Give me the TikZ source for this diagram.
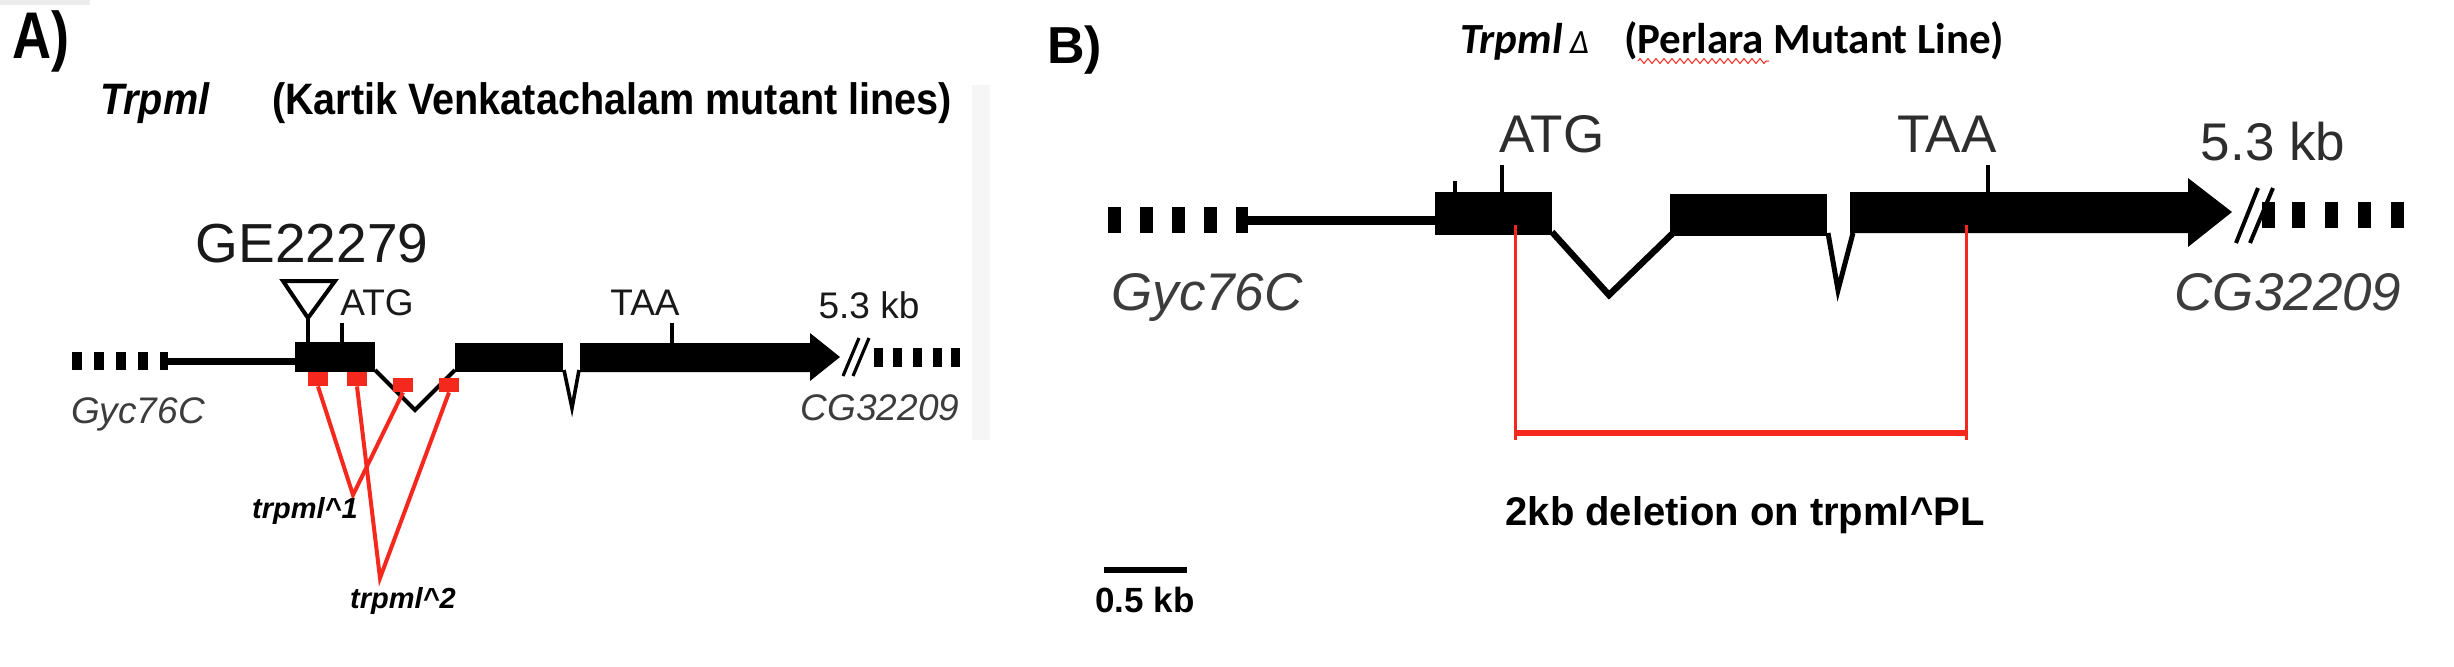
\documentclass[tikz,border=0pt]{standalone}
\usepackage{fontspec}
\usepackage{graphicx}
\setmainfont{Liberation Sans}
\newfontfamily\carlito{Carlito}
\usetikzlibrary{decorations.pathmorphing}
\newcommand{\fsz}[1]{\fontsize{#1}{#1}\selectfont}
\definecolor{mred}{RGB}{245,40,30}
\definecolor{lbl}{RGB}{25,25,25}
\definecolor{glbl}{RGB}{60,60,60}
\definecolor{blbl}{RGB}{45,45,45}
\begin{document}
\begin{tikzpicture}[x=0.5pt,y=-0.5pt,
  txt/.style={inner sep=0pt, outer sep=0pt, anchor=base},
  mutsq/.style={fill=mred, draw=none, minimum width=10pt, minimum height=7pt, inner sep=0pt},
  redln/.style={draw=mred, line width=2pt},
  intron/.style={draw=black, line width=2pt, line join=miter},
  tick/.style={draw=black, line width=1.6pt},
  brk/.style={draw=black, line width=1.6pt}
]
\useasboundingbox (0,0) rectangle (2454,666);
\fill[white] (0,0) rectangle (2454,666);
% faint scan artefacts of panel A
\fill[gray!15] (0,0) rectangle (90,5);
\fill[gray!7] (972,85) rectangle (990,440);

% ---------------- Panel A ----------------
\node[txt, anchor=base west] (labA) at (12,58) {\scalebox{0.82}[1]{\bfseries\fsz{33pt}A)}};
\node[txt, anchor=base west] (titA1) at (100,114) {\scalebox{0.9}[1]{\bfseries\itshape\fsz{22pt}Trpml}};
\node[txt, anchor=base west] (titA2) at (272,114) {\scalebox{0.9}[1]{\bfseries\fsz{22pt}(Kartik Venkatachalam mutant lines)}};

% gene model A
\foreach \x in {72,94,116,138} \fill (\x,352) rectangle ++(10,18);
\fill (160,352) rectangle (168,370);
\fill (160,357.5) rectangle (295,364.5);
\fill (295,342) rectangle (375,372);
\draw[intron] (375,370) -- (415,410) -- (455,370);
\fill (455,343) rectangle (563,372);
\draw[intron, line width=1.8pt] (564,370) -- (572,408) -- (579,370);
\fill (580,343) -- (810,343) -- (810,333) -- (840,357) -- (810,381) -- (810,372) -- (580,372) -- cycle;
\draw[tick] (342,342) -- (342,323);
\draw[tick] (672,343) -- (672,323);
\draw[line width=2pt, line join=miter] (283,281) -- (335,281) -- (308,318) -- cycle;
\draw[tick] (308,318) -- (308,342);
\foreach \x in {874,893,913,933,951} \fill (\x,348) rectangle ++(9,19);
\draw[white, line width=1.2pt] (848,376) -- (864,338);
\draw[brk] (843,376) -- (859,338);
\draw[brk] (853,376) -- (869,338);

\node[txt, text=lbl] (ge) at (312,262) {\fsz{27.5pt}GE22279};
\node[txt, text=lbl] (atgA) at (377,315) {\fsz{18.5pt}ATG};
\node[txt, text=lbl] (taaA) at (645,315) {\fsz{18.5pt}TAA};
\node[txt, text=lbl] (kbA) at (869,318) {\fsz{18.5pt}5.3 kb};
\node[txt, text=glbl] (gycA) at (138,423) {\itshape\fsz{18.5pt}Gyc76C};
\node[txt, text=glbl] (cgA) at (880,420) {\itshape\fsz{18.5pt}CG32209};

% mutations
\node[mutsq] (m1) at (318,379) {};
\node[mutsq] (m2) at (357,379) {};
\node[mutsq] (m3) at (403,385) {};
\node[mutsq] (m4) at (449,385) {};
\coordinate (j1) at (353,495);
\coordinate (j2) at (380,578);
\draw[redln] (m1.south) -- (j1) -- (m3.south);
\draw[redln] (m2.south) -- (j2) -- (m4.south);
\node[txt] (t1) at (305,518) {\bfseries\itshape\fsz{14.5pt}trpml\^{}1};
\node[txt] (t2) at (403,608) {\bfseries\itshape\fsz{14.5pt}trpml\^{}2};

% ---------------- Panel B ----------------
\node[txt, anchor=base west] (labB) at (1047,63) {\bfseries\fsz{26pt}B)};
\node[txt, anchor=base west] (titB1) at (1460,53) {\carlito\fsz{21.5pt}\textbf{\textit{Trpml}}\,{\itshape\fsz{17pt}\symbol{"0394}}};
\node[txt, anchor=base west] (titB2) at (1624,53) {\carlito\bfseries\fsz{21.5pt}(Perlara Mutant Line)};
\draw[mred, line width=0.5pt, decorate, decoration={zigzag, segment length=4pt, amplitude=1.2pt}] (1638,61) -- (1769,61);

% gene model B
\foreach \x in {1108,1140,1172,1204} \fill (\x,207) rectangle ++(13,26);
\fill (1236,207) rectangle (1248,233);
\fill (1248,215.5) rectangle (1435,224.5);
\fill (1435,192) rectangle (1552,235);
\draw[tick, line width=2pt] (1455,192) -- (1455,181);
\draw[tick, line width=2pt] (1502,192) -- (1502,165);
\draw[intron, line width=3.2pt] (1552,232) -- (1609,295) -- (1672,234);
\fill (1670,194) rectangle (1827,236);
\draw[intron, line width=2.5pt] (1828,233) -- (1838,290) -- (1853,233);
\fill (1850,192) -- (2188,192) -- (2188,178) -- (2232,212) -- (2188,247) -- (2188,233) -- (1850,233) -- cycle;
\draw[tick, line width=2pt] (1988,192) -- (1988,165);
\foreach \x in {2262,2292,2325,2358,2391} \fill (\x,202) rectangle ++(13,26);
\draw[white, line width=1.6pt] (2243,243) -- (2266,188);
\draw[brk, line width=2pt] (2236,243) -- (2258,188);
\draw[brk, line width=2pt] (2250,243) -- (2273,188);

\node[txt, text=blbl] (atgB) at (1552,152) {\fsz{26.5pt}ATG};
\node[txt, text=blbl] (taaB) at (1947,152) {\fsz{26.5pt}TAA};
\node[txt, text=blbl] (kbB) at (2273,160) {\fsz{26.5pt}5.3 kb};
\node[txt, text=glbl] (gycB) at (1207,310) {\itshape\fsz{26.5pt}Gyc76C};
\node[txt, text=glbl] (cgB) at (2288,310) {\itshape\fsz{26.5pt}CG32209};

% deletion bracket
\coordinate (dL) at (1515,225);
\coordinate (dR) at (1966,225);
\coordinate (dLb) at (1515,440);
\coordinate (dRb) at (1966,440);
\draw[mred, line width=1.5pt] (dL) -- (dLb);
\draw[mred, line width=1.5pt] (dR) -- (dRb);
\draw[mred, line width=2.6pt] (1515,433) -- (1966,433);
\node[txt] (del) at (1745,525) {\bfseries\fsz{20pt}2kb deletion on trpml\^{}PL};

% scale bar
\coordinate (sbL) at (1104,570);
\coordinate (sbR) at (1187,570);
\draw[line width=3pt] (sbL) -- (sbR);
\node[txt] (sbt) at (1145,612) {\bfseries\fsz{17.5pt}0.5 kb};
\end{tikzpicture}
\end{document}
